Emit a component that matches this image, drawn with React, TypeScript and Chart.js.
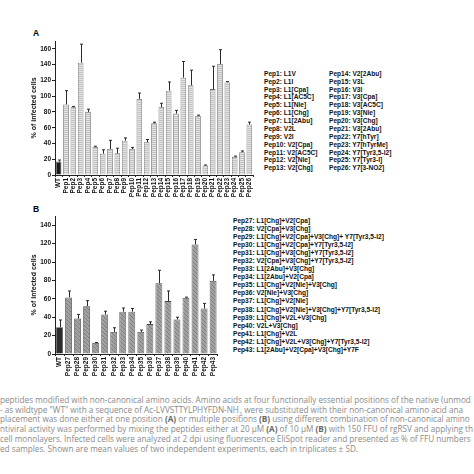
import React, { useEffect, useRef } from 'react';
import { Chart, registerables, ChartConfiguration } from 'chart.js';
Chart.register(...registerables);

// Panel A: single substitutions
const catsA = ['WT', 'Pep1', 'Pep2', 'Pep3', 'Pep4', 'Pep5', 'Pep6', 'Pep7', 'Pep8', 'Pep9', 'Pep10', 'Pep11', 'Pep12', 'Pep13',
  'Pep14', 'Pep15', 'Pep16', 'Pep17', 'Pep18', 'Pep19', 'Pep20', 'Pep21', 'Pep22', 'Pep23', 'Pep24', 'Pep25', 'Pep26'];
const valsA = [17, 89.5, 86, 142.5, 80, 35.5, 27, 33, 27.5, 43.5, 33, 96.5, 41.5, 65.5, 86, 107, 78, 123.5, 114, 75, 12, 109, 141, 117.5, 23, 29, 64];
const errA = [2, 17.5, 1, 23.5, 3.5, 1, 5, 11, 6.5, 3.5, 2, 7.5, 3.5, 1.5, 5, 11, 4, 20.5, 19, 1, 0.7, 29, 18, 1, 1, 1.5, 3];
const ticksA = [0, 20, 40, 60, 80, 100, 120, 140, 160];

// Panel B: combined substitutions
const catsB = ['WT', 'Pep27', 'Pep28', 'Pep29', 'Pep30', 'Pep31', 'Pep32', 'Pep33', 'Pep34', 'Pep35', 'Pep36', 'Pep37', 'Pep38',
  'Pep39', 'Pep40', 'Pep41', 'Pep42', 'Pep43'];
const valsB = [29, 61.5, 38.5, 52, 12, 43, 24, 46, 46, 24, 32.5, 77, 57.5, 37.5, 61, 119, 49.5, 79.5];
const errB = [8, 7, 4.5, 6, 0.5, 3.5, 4.5, 4, 3.5, 2, 2.5, 14, 11, 2.5, 0.8, 5.5, 5.5, 6.5];
const ticksB = [0, 20, 40, 60, 80, 100, 120, 140];

const legendA1 = ['Pep1: L1V', 'Pep2: L1I', 'Pep3: L1[Cpa]', 'Pep4: L1[AC5C]', 'Pep5: L1[Nle]', 'Pep6: L1[Chg]', 'Pep7: L1[2Abu]',
  'Pep8: V2L', 'Pep9: V2I', 'Pep10: V2[Cpa]', 'Pep11: V2[AC5C]', 'Pep12: V2[Nle]', 'Pep13: V2[Chg]'];
const legendA2 = ['Pep14: V2[2Abu]', 'Pep15: V3L', 'Pep16: V3I', 'Pep17: V3[Cpa]', 'Pep18: V3[AC5C]', 'Pep19: V3[Nle]', 'Pep20: V3[Chg]',
  'Pep21: V3[2Abu]', 'Pep22: Y7[hTyr]', 'Pep23: Y7[hTyrMe]', 'Pep24: Y7[Tyr3,5-I2]', 'Pep25: Y7[Tyr3-I]', 'Pep26: Y7[3-NO2]'];
const legendB = ['Pep27: L1[Chg]+V2[Cpa]', 'Pep28: V2[Cpa]+V3[Chg]', 'Pep29: L1[Chg]+V2[Cpa]+V3[Chg]+ Y7[Tyr3,5-I2]',
  'Pep30: L1[Chg]+V2[Cpa]+Y7[Tyr3,5-I2]', 'Pep31: L1[Chg]+V3[Chg]+Y7[Tyr3,5-I2]', 'Pep32: V2[Cpa]+V3[Chg]+Y7[Tyr3,5-I2]',
  'Pep33: L1[2Abu]+V3[Chg]', 'Pep34: L1[2Abu]+V2[Cpa]', 'Pep35: L1[Chg]+V2[Nle]+V3[Chg]', 'Pep36: V2[Nle]+V3[Chg]',
  'Pep37: L1[Chg]+V2[Nle]', 'Pep38: L1[Chg]+V2[Nle]+V3[Chg]+Y7[Tyr3,5-I2]', 'Pep39: L1[Chg]+V2L+V3[Chg]', 'Pep40: V2L+V3[Chg]',
  'Pep41: L1[Chg]+V2L', 'Pep42: L1[Chg]+V2L+V3[Chg]+Y7[Tyr3,5-I2]', 'Pep43: L1[2Abu]+V2[Cpa]+V3[Chg]+Y7F'];

const FONT = '"Liberation Sans", Arial, sans-serif';

function makePattern(bg: string, line: string, kind: 'h' | 'd'): CanvasPattern | string {
  const c = document.createElement('canvas');
  const n = kind === 'h' ? 2 : 4;
  c.width = n;
  c.height = n;
  const g = c.getContext('2d');
  if (!g) return bg;
  g.fillStyle = bg;
  g.fillRect(0, 0, n, n);
  g.fillStyle = line;
  if (kind === 'h') {
    g.fillRect(0, 0, n, 1);
  } else {
    for (let i = 0; i < n; i++) g.fillRect(i, i, 1, 1);
  }
  return g.createPattern(c, 'repeat') || bg;
}

function errorBarPlugin(errs: number[]) {
  return {
    id: 'errorBars',
    afterDatasetsDraw(chart: Chart) {
      const meta = chart.getDatasetMeta(0);
      const yScale = chart.scales.y;
      const data = chart.data.datasets[0].data as number[];
      const ctx = chart.ctx;
      ctx.save();
      ctx.strokeStyle = '#2a2a2a';
      ctx.lineWidth = 1;
      meta.data.forEach((bar: any, i: number) => {
        const top = yScale.getPixelForValue(data[i] + errs[i]);
        const x = Math.round(bar.x) + 0.5;
        ctx.beginPath();
        ctx.moveTo(x, bar.y);
        ctx.lineTo(x, top);
        ctx.moveTo(x - 1.5, top);
        ctx.lineTo(x + 1.5, top);
        ctx.stroke();
      });
      ctx.restore();
    },
  };
}

interface PanelProps {
  labels: string[];
  values: number[];
  errors: number[];
  yTicks: number[];
  yMax: number;
  kind: 'h' | 'd';
  left: number;
  top: number;
  width: number;
  height: number;
  padTop: number;
  padRight: number;
  xHeight: number;
}

const BarPanel: React.FC<PanelProps> = (p) => {
  const ref = useRef<HTMLCanvasElement>(null);

  useEffect(() => {
    if (!ref.current) return;
    const ctx = ref.current.getContext('2d');
    if (!ctx) return;
    const fill = p.kind === 'h' ? makePattern('#e4e4e4', '#c2c2c2', 'h') : makePattern('#a2a2a2', '#7c7c7c', 'd');
    const wtFill = p.kind === 'h' ? '#1c1c1c' : '#2e2e2e';
    const tickFont = { family: FONT, size: 6.5, weight: 'bold' as const };

    const config: ChartConfiguration = {
      type: 'bar',
      data: {
        labels: p.labels,
        datasets: [{
          data: p.values,
          backgroundColor: p.labels.map((l) => (l === 'WT' ? wtFill : fill)) as any,
          borderColor: p.kind === 'h' ? '#6a6a6a' : '#4a4a4a',
          borderWidth: 0.8,
          barPercentage: 0.76,
          categoryPercentage: 1,
        }],
      },
      options: {
        responsive: false,
        animation: false,
        layout: { padding: { left: 9, top: p.padTop, right: p.padRight, bottom: 0 } },
        plugins: { legend: { display: false }, tooltip: { enabled: false } },
        scales: {
          x: {
            afterFit: (s: any) => { s.height = p.xHeight; },
            grid: { drawOnChartArea: false, tickLength: 2, color: '#222' },
            border: { color: '#222', width: 1 },
            ticks: { font: tickFont, color: '#111', minRotation: 90, maxRotation: 90, padding: 1, autoSkip: false },
          },
          y: {
            min: 0,
            max: p.yMax,
            afterFit: (s: any) => { s.width = 26; },
            afterBuildTicks: (s: any) => { s.ticks = p.yTicks.map((v) => ({ value: v })); },
            grid: { drawOnChartArea: false, tickLength: 3, color: '#222' },
            border: { color: '#222', width: 1 },
            ticks: { font: tickFont, color: '#111', padding: 1 },
            title: { display: true, text: '% of infected cells', color: '#111', font: { family: FONT, size: 7, weight: 'bold' }, padding: { top: 1, bottom: 0 } },
          },
        },
      },
      plugins: [errorBarPlugin(p.errors)],
    };
    const chart = new Chart(ctx, config);
    return () => chart.destroy();
  }, []);

  return (
    <canvas
      ref={ref}
      width={p.width}
      height={p.height}
      style={{ position: 'absolute', left: p.left, top: p.top, width: p.width, height: p.height }}
    />
  );
};

const legendStyle: React.CSSProperties = {
  position: 'absolute', fontFamily: FONT, fontWeight: 'bold', fontSize: 6.6, color: '#111', whiteSpace: 'pre',
};

const captionColor = '#8a8a8a';
const B = (t: string) => <b style={{ color: '#666' }}>{t}</b>;

export default function App() {
  return (
    <div style={{ position: 'fixed', left: 0, top: 0, width: 474, height: 474, background: '#fff', overflow: 'hidden' }}>
      <div style={{ position: 'absolute', left: 33, top: 28, fontFamily: FONT, fontWeight: 'bold', fontSize: 8.5 }}>A</div>
      <div style={{ position: 'absolute', left: 33, top: 204, fontFamily: FONT, fontWeight: 'bold', fontSize: 8.5 }}>B</div>

      <BarPanel labels={catsA} values={valsA} errors={errA} yTicks={ticksA} yMax={170} kind="h"
        left={20} top={30} width={240} height={172} padTop={11} padRight={7} xHeight={27} />
      <BarPanel labels={catsB} values={valsB} errors={errB} yTicks={ticksB} yMax={150} kind="d"
        left={20} top={205} width={202} height={180} padTop={11} padRight={4} xHeight={31} />

      <div style={{ ...legendStyle, left: 264, top: 69.8, lineHeight: '7.88px' }}>{legendA1.join('\n')}</div>
      <div style={{ ...legendStyle, left: 329, top: 69.8, lineHeight: '7.88px' }}>{legendA2.join('\n')}</div>
      <div style={{ ...legendStyle, left: 233, top: 216.7, lineHeight: '8.08px' }}>{legendB.join('\n')}</div>

      <div style={{ position: 'absolute', left: 0, top: 395, width: 474, fontFamily: '"Open Sans", sans-serif', fontSize: 8.2,
        lineHeight: '9.7px', color: captionColor, whiteSpace: 'pre' }}>
        <div>peptides modified with non-canonical amino acids. Amino acids at four functionally essential positions of the native (unmod</div>
        <div>- as wildtype "WT" with a sequence of Ac-LVVSTTYLPHYFDN-NH<sub style={{ fontSize: 5.5, lineHeight: 0 }}>2</sub> were substituted with their non-canonical amino acid ana</div>
        <div>placement was done either at one position {B('(A)')} or multiple positions {B('(B)')} using different combination of non-canonical amino</div>
        <div>ntiviral activity was performed by mixing the peptides either at 20 μM {B('(A)')} of 10 μM {B('(B)')} with 150 FFU of rgRSV and applying th</div>
        <div>cell monolayers. Infected cells were analyzed at 2 dpi using fluorescence EliSpot reader and presented as % of FFU numbers</div>
        <div>ed samples. Shown are mean values of two independent experiments, each in triplicates ± SD.</div>
      </div>
    </div>
  );
}
